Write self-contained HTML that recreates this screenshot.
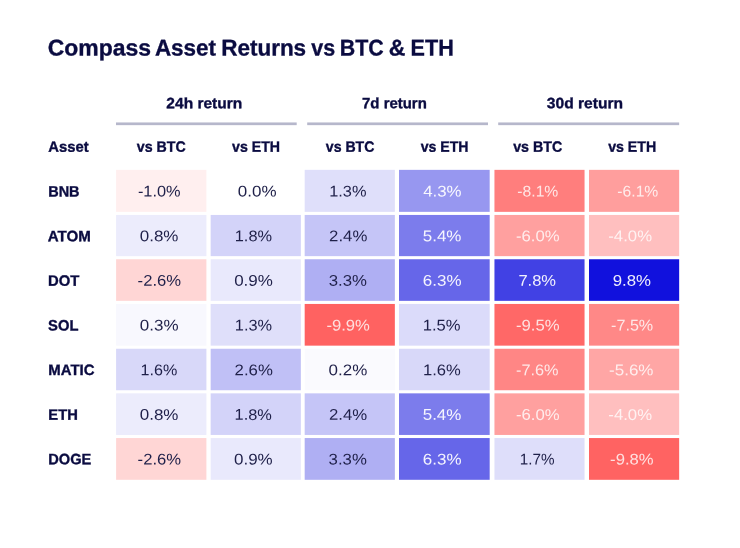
<!DOCTYPE html>
<html lang="en"><head><meta charset="utf-8"><title>Compass Asset Returns vs BTC &amp; ETH</title>
<style>
html,body{margin:0;padding:0;background:#fff;}
body{width:740px;height:548px;position:relative;overflow:hidden;font-family:"Liberation Sans",sans-serif;color:#0a0b40;}
svg{position:absolute;left:0;top:0;}
h1{margin:0;font-size:22.8px;font-weight:bold;}
.t,.b,.n{position:absolute;left:0;top:0;transform-origin:0 0;line-height:1;white-space:nowrap;}
.t{font-size:22.8px;font-weight:bold;-webkit-text-stroke:.35px;}
.b{font-size:15px;font-weight:bold;-webkit-text-stroke:.35px;}
.n{font-size:15.5px;color:#1f2049;}
.w{color:rgba(255,255,255,.93);}
.r{color:rgba(255,255,255,.8);}
</style></head><body>
<svg width="740" height="548" viewBox="0 0 740 548">
<rect x="116.0" y="122.45" width="180.70" height="2.70" fill="#b6b7cb"/>
<rect x="307.2" y="122.45" width="180.80" height="2.70" fill="#b6b7cb"/>
<rect x="498.2" y="122.45" width="180.95" height="2.70" fill="#b6b7cb"/>
<rect x="116.10" y="169.85" width="90.30" height="42.00" fill="#ffefef"/>
<rect x="210.66" y="169.85" width="90.19" height="42.00" fill="#ffffff"/>
<rect x="304.68" y="169.85" width="90.17" height="42.00" fill="#dfdffa"/>
<rect x="399.00" y="169.85" width="90.68" height="42.00" fill="#9797f0"/>
<rect x="494.45" y="169.85" width="90.10" height="42.00" fill="#ff7e7d"/>
<rect x="589.00" y="169.85" width="90.16" height="42.00" fill="#ff9e9d"/>
<rect x="116.10" y="214.95" width="90.30" height="41.20" fill="#ececfc"/>
<rect x="210.66" y="214.95" width="90.19" height="41.20" fill="#d3d3f9"/>
<rect x="304.68" y="214.95" width="90.17" height="41.20" fill="#c5c5f7"/>
<rect x="399.00" y="214.95" width="90.68" height="41.20" fill="#7c7cec"/>
<rect x="494.45" y="214.95" width="90.10" height="41.20" fill="#ffa09f"/>
<rect x="589.00" y="214.95" width="90.16" height="41.20" fill="#ffbfbf"/>
<rect x="116.10" y="259.25" width="90.30" height="41.60" fill="#ffd6d5"/>
<rect x="210.66" y="259.25" width="90.19" height="41.60" fill="#e9e9fc"/>
<rect x="304.68" y="259.25" width="90.17" height="41.60" fill="#afaff3"/>
<rect x="399.00" y="259.25" width="90.68" height="41.60" fill="#6666e9"/>
<rect x="494.45" y="259.25" width="90.10" height="41.60" fill="#4141e4"/>
<rect x="589.00" y="259.25" width="90.16" height="41.60" fill="#1111dd"/>
<rect x="116.10" y="303.95" width="90.30" height="41.70" fill="#f8f8fe"/>
<rect x="210.66" y="303.95" width="90.19" height="41.70" fill="#dfdffa"/>
<rect x="304.68" y="303.95" width="90.17" height="41.70" fill="#ff6261"/>
<rect x="399.00" y="303.95" width="90.68" height="41.70" fill="#dbdbfa"/>
<rect x="494.45" y="303.95" width="90.10" height="41.70" fill="#ff6867"/>
<rect x="589.00" y="303.95" width="90.16" height="41.70" fill="#ff8887"/>
<rect x="116.10" y="348.75" width="90.30" height="41.50" fill="#d8d8f9"/>
<rect x="210.66" y="348.75" width="90.19" height="41.50" fill="#c0c0f6"/>
<rect x="304.68" y="348.75" width="90.17" height="41.50" fill="#fafafe"/>
<rect x="399.00" y="348.75" width="90.68" height="41.50" fill="#d8d8f9"/>
<rect x="494.45" y="348.75" width="90.10" height="41.50" fill="#ff8685"/>
<rect x="589.00" y="348.75" width="90.16" height="41.50" fill="#ffa6a5"/>
<rect x="116.10" y="393.35" width="90.30" height="41.60" fill="#ececfc"/>
<rect x="210.66" y="393.35" width="90.19" height="41.60" fill="#d3d3f9"/>
<rect x="304.68" y="393.35" width="90.17" height="41.60" fill="#c5c5f7"/>
<rect x="399.00" y="393.35" width="90.68" height="41.60" fill="#7c7cec"/>
<rect x="494.45" y="393.35" width="90.10" height="41.60" fill="#ffa09f"/>
<rect x="589.00" y="393.35" width="90.16" height="41.60" fill="#ffbfbf"/>
<rect x="116.10" y="438.05" width="90.30" height="41.75" fill="#ffd6d5"/>
<rect x="210.66" y="438.05" width="90.19" height="41.75" fill="#e9e9fc"/>
<rect x="304.68" y="438.05" width="90.17" height="41.75" fill="#afaff3"/>
<rect x="399.00" y="438.05" width="90.68" height="41.75" fill="#6666e9"/>
<rect x="494.45" y="438.05" width="90.10" height="41.75" fill="#dedefa"/>
<rect x="589.00" y="438.05" width="90.16" height="41.75" fill="#ff6362"/>
</svg>
<h1>
<span class="t" style="transform:translate(47.80px,36.40px) rotate(.03deg) scale(1.0058,1)">Compass</span>
<span class="t" style="transform:translate(154.92px,36.40px) rotate(.03deg) scale(0.9838,1)">Asset</span>
<span class="t" style="transform:translate(221.19px,36.40px) rotate(.03deg) scale(0.9860,1)">Returns</span>
<span class="t" style="transform:translate(311.34px,36.40px) rotate(.03deg) scale(0.9395,1)">vs</span>
<span class="t" style="transform:translate(339.70px,36.40px) rotate(.03deg) scale(0.9387,1)">BTC</span>
<span class="t" style="transform:translate(388.76px,36.40px) rotate(.03deg) scale(1.0130,1)">&amp;</span>
<span class="t" style="transform:translate(410.59px,36.40px) rotate(.03deg) scale(0.9462,1)">ETH</span>
</h1>
<div class="b" style="transform:translate(166.38px,95.19px) rotate(.03deg) scale(1.0346,1)">24h return</div>
<div class="b" style="transform:translate(362.04px,95.19px) rotate(.03deg) scale(0.9966,1)">7d return</div>
<div class="b" style="transform:translate(546.85px,95.19px) rotate(.03deg) scale(1.0386,1)">30d return</div>
<div class="b" style="transform:translate(48.29px,138.74px) rotate(.03deg) scale(0.9862,1)">Asset</div>
<div class="b" style="transform:translate(136.77px,138.74px) rotate(.03deg) scale(0.9461,1)">vs BTC</div>
<div class="b" style="transform:translate(232.12px,138.74px) rotate(.03deg) scale(0.9432,1)">vs ETH</div>
<div class="b" style="transform:translate(325.82px,138.74px) rotate(.03deg) scale(0.9403,1)">vs BTC</div>
<div class="b" style="transform:translate(420.71px,138.74px) rotate(.03deg) scale(0.9376,1)">vs ETH</div>
<div class="b" style="transform:translate(513.18px,138.74px) rotate(.03deg) scale(0.9492,1)">vs BTC</div>
<div class="b" style="transform:translate(608.18px,138.74px) rotate(.03deg) scale(0.9432,1)">vs ETH</div>
<div class="b" style="transform:translate(48.22px,183.54px) rotate(.03deg) scale(0.9641,1)">BNB</div>
<div class="n" style="transform:translate(137.91px,183.52px) rotate(.03deg) scale(1.0534,1)">-1.0%</div>
<div class="n" style="transform:translate(237.83px,183.52px) rotate(.03deg) scale(1.0949,1)">0.0%</div>
<div class="n" style="transform:translate(329.16px,183.52px) rotate(.03deg) scale(1.0549,1)">1.3%</div>
<div class="n w" style="transform:translate(423.19px,183.52px) rotate(.03deg) scale(1.0868,1)">4.3%</div>
<div class="n r" style="transform:translate(517.30px,183.52px) rotate(.03deg) scale(1.0137,1)">-8.1%</div>
<div class="n r" style="transform:translate(617.31px,183.52px) rotate(.03deg) scale(1.0131,1)">-6.1%</div>
<div class="b" style="transform:translate(47.81px,228.16px) rotate(.03deg) scale(1.0082,1)">ATOM</div>
<div class="n" style="transform:translate(139.73px,228.19px) rotate(.03deg) scale(1.0949,1)">0.8%</div>
<div class="n" style="transform:translate(234.77px,228.19px) rotate(.03deg) scale(1.0549,1)">1.8%</div>
<div class="n" style="transform:translate(329.11px,228.19px) rotate(.03deg) scale(1.0820,1)">2.4%</div>
<div class="n w" style="transform:translate(422.73px,228.19px) rotate(.03deg) scale(1.0949,1)">5.4%</div>
<div class="n r" style="transform:translate(515.95px,228.19px) rotate(.03deg) scale(1.0793,1)">-6.0%</div>
<div class="n r" style="transform:translate(608.31px,228.19px) rotate(.03deg) scale(1.0793,1)">-4.0%</div>
<div class="b" style="transform:translate(48.12px,272.78px) rotate(.03deg) scale(0.9894,1)">DOT</div>
<div class="n" style="transform:translate(137.60px,272.86px) rotate(.03deg) scale(1.0729,1)">-2.6%</div>
<div class="n" style="transform:translate(234.14px,272.86px) rotate(.03deg) scale(1.0949,1)">0.9%</div>
<div class="n" style="transform:translate(328.75px,272.86px) rotate(.03deg) scale(1.0808,1)">3.3%</div>
<div class="n w" style="transform:translate(422.85px,272.86px) rotate(.03deg) scale(1.0951,1)">6.3%</div>
<div class="n w" style="transform:translate(518.41px,272.86px) rotate(.03deg) scale(1.0641,1)">7.8%</div>
<div class="n w" style="transform:translate(612.72px,272.86px) rotate(.03deg) scale(1.0826,1)">9.8%</div>
<div class="b" style="transform:translate(48.10px,317.40px) rotate(.03deg) scale(0.9841,1)">SOL</div>
<div class="n" style="transform:translate(139.84px,317.53px) rotate(.03deg) scale(1.0949,1)">0.3%</div>
<div class="n" style="transform:translate(234.79px,317.53px) rotate(.03deg) scale(1.0549,1)">1.3%</div>
<div class="n r" style="transform:translate(326.46px,317.53px) rotate(.03deg) scale(1.0729,1)">-9.9%</div>
<div class="n" style="transform:translate(422.80px,317.53px) rotate(.03deg) scale(1.0689,1)">1.5%</div>
<div class="n r" style="transform:translate(515.90px,317.53px) rotate(.03deg) scale(1.0793,1)">-9.5%</div>
<div class="n r" style="transform:translate(611.07px,317.53px) rotate(.03deg) scale(1.0411,1)">-7.5%</div>
<div class="b" style="transform:translate(48.32px,362.02px) rotate(.03deg) scale(0.9959,1)">MATIC</div>
<div class="n" style="transform:translate(140.51px,362.20px) rotate(.03deg) scale(1.0396,1)">1.6%</div>
<div class="n" style="transform:translate(234.62px,362.20px) rotate(.03deg) scale(1.0820,1)">2.6%</div>
<div class="n" style="transform:translate(328.60px,362.20px) rotate(.03deg) scale(1.0949,1)">0.2%</div>
<div class="n" style="transform:translate(422.93px,362.20px) rotate(.03deg) scale(1.0689,1)">1.6%</div>
<div class="n r" style="transform:translate(515.97px,362.20px) rotate(.03deg) scale(1.0495,1)">-7.6%</div>
<div class="n r" style="transform:translate(609.10px,362.20px) rotate(.03deg) scale(1.0963,1)">-5.6%</div>
<div class="b" style="transform:translate(48.34px,406.64px) rotate(.03deg) scale(0.9815,1)">ETH</div>
<div class="n" style="transform:translate(139.76px,406.87px) rotate(.03deg) scale(1.0949,1)">0.8%</div>
<div class="n" style="transform:translate(234.62px,406.87px) rotate(.03deg) scale(1.0549,1)">1.8%</div>
<div class="n" style="transform:translate(329.01px,406.87px) rotate(.03deg) scale(1.0820,1)">2.4%</div>
<div class="n w" style="transform:translate(422.72px,406.87px) rotate(.03deg) scale(1.0949,1)">5.4%</div>
<div class="n r" style="transform:translate(515.91px,406.87px) rotate(.03deg) scale(1.0793,1)">-6.0%</div>
<div class="n r" style="transform:translate(608.32px,406.87px) rotate(.03deg) scale(1.0793,1)">-4.0%</div>
<div class="b" style="transform:translate(48.29px,451.26px) rotate(.03deg) scale(0.9757,1)">DOGE</div>
<div class="n" style="transform:translate(137.60px,451.54px) rotate(.03deg) scale(1.0729,1)">-2.6%</div>
<div class="n" style="transform:translate(234.02px,451.54px) rotate(.03deg) scale(1.0949,1)">0.9%</div>
<div class="n" style="transform:translate(328.62px,451.54px) rotate(.03deg) scale(1.0808,1)">3.3%</div>
<div class="n w" style="transform:translate(422.85px,451.54px) rotate(.03deg) scale(1.0951,1)">6.3%</div>
<div class="n" style="transform:translate(519.71px,451.54px) rotate(.03deg) scale(0.9838,1)">1.7%</div>
<div class="n r" style="transform:translate(610.12px,451.54px) rotate(.03deg) scale(1.0729,1)">-9.8%</div>
</body></html>
